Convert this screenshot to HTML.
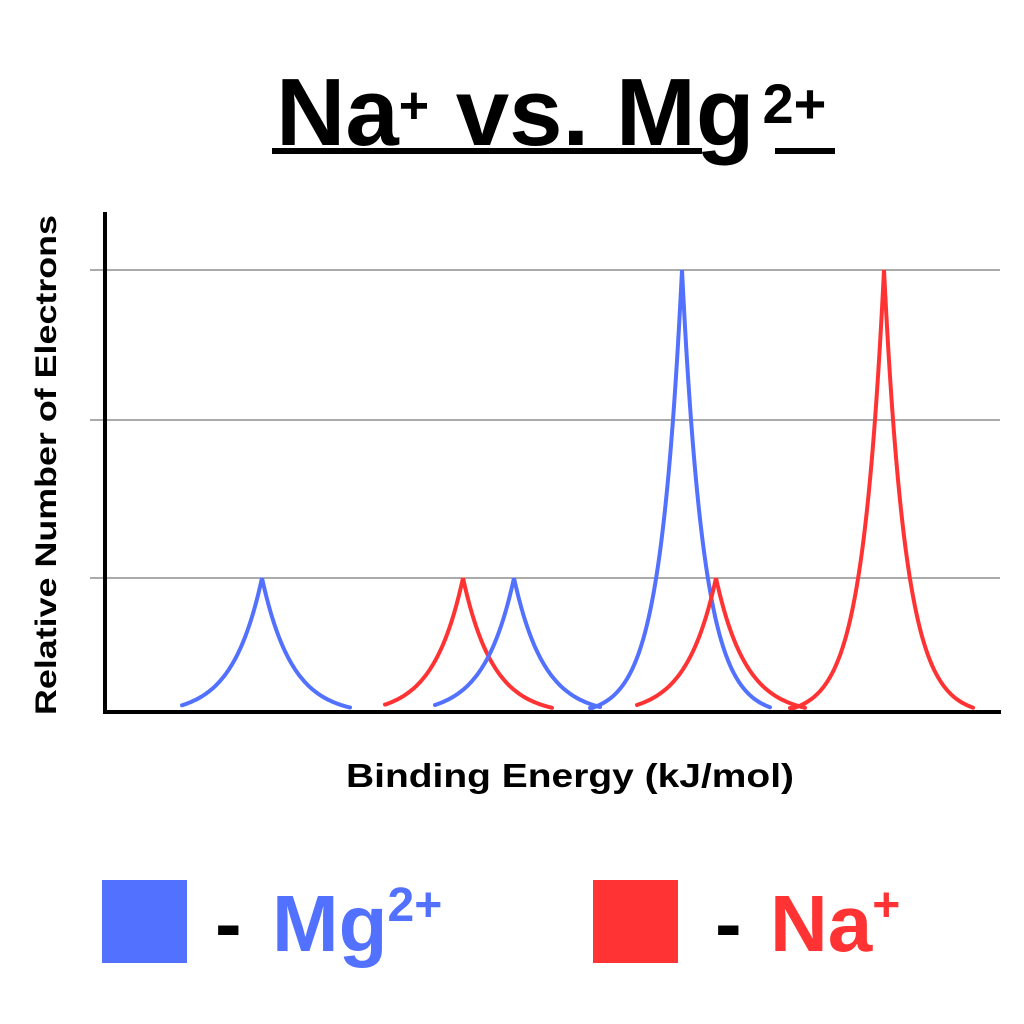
<!DOCTYPE html>
<html><head><meta charset="utf-8"><style>
html,body{margin:0;padding:0;background:#fff;width:1024px;height:1024px;overflow:hidden}
svg text{font-family:"Liberation Sans",sans-serif;font-weight:bold}
</style></head><body>
<svg id="s" width="1024" height="1024" viewBox="0 0 1024 1024" xmlns="http://www.w3.org/2000/svg">
<text x="276" y="145" font-size="96" fill="#000">Na<tspan font-size="52" dy="-22">+</tspan><tspan dy="22"> vs. Mg</tspan><tspan font-size="56" dy="-22" dx="8">2+</tspan></text>
<rect x="272" y="148" width="430" height="6" fill="#000"/>
<rect x="775" y="148" width="60" height="6" fill="#000"/>
<g stroke="#777" stroke-width="1.2">
<line x1="90" y1="270" x2="1000" y2="270"/>
<line x1="90" y1="420" x2="1000" y2="420"/>
<line x1="90" y1="578" x2="1000" y2="578"/>
</g>
<g id="peaks" fill="none" stroke-width="4" stroke-linecap="round"></g>
<line x1="105" y1="212" x2="105" y2="714" stroke="#000" stroke-width="4"/>
<line x1="103" y1="712" x2="1001" y2="712" stroke="#000" stroke-width="4"/>
<text x="346" y="787" font-size="33" textLength="448" lengthAdjust="spacingAndGlyphs" fill="#000">Binding Energy (kJ/mol)</text>
<text transform="translate(56,715) rotate(-90)" font-size="30" textLength="500" lengthAdjust="spacingAndGlyphs" fill="#000">Relative Number of Electrons</text>
<rect x="102" y="880" width="85" height="83" fill="#5271ff"/>
<text x="215" y="951" font-size="80" fill="#000">-</text>
<text x="272" y="951" font-size="80" fill="#5271ff">Mg<tspan font-size="48" dy="-30">2+</tspan></text>
<rect x="593" y="880" width="85" height="83" fill="#ff3333"/>
<text x="715" y="951" font-size="80" fill="#000">-</text>
<text x="770" y="951" font-size="80" fill="#ff3333">Na<tspan font-size="48" dy="-30">+</tspan></text>
</svg>
<script>
var g=document.getElementById('peaks');
function peak(c,top,l,r,w,col){
 var base=708,h=base-top,d='',R=90,e=Math.exp(-R/w);
 for(var x=l;x<=r;x+=1){
  var dx=Math.abs(x-c);
  var v=Math.max(0,(Math.exp(-dx/w)-e)/(1-e));
  var y=base-h*v;
  d+=(x==l?'M':'L')+x+' '+y.toFixed(1)+' ';
 }
 var p=document.createElementNS('http://www.w3.org/2000/svg','path');
 p.setAttribute('d',d);p.setAttribute('stroke',col);g.appendChild(p);
}
var B='#5271ff',R='#ff3333';
peak(262,578,182,350,30,B);
peak(463,578,385,552,30,R);
peak(514,578,435,600,30,B);
peak(682,270,590,770,22,B);
peak(716,578,637,805,30,R);
peak(884,270,790,973,22,R);
</script>
</body></html>
